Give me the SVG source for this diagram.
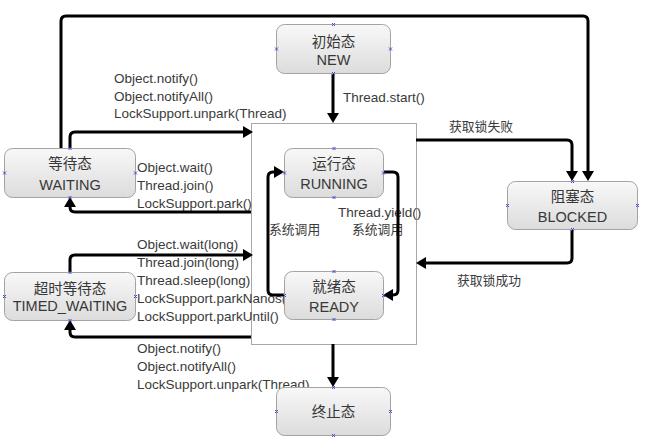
<svg xmlns="http://www.w3.org/2000/svg" xmlns:xlink="http://www.w3.org/1999/xlink" width="648" height="445" viewBox="0 0 648 445">
<style>
.box{fill:url(#g);stroke:#a3a3a3;stroke-width:1}
.nt{font-family:"Liberation Sans","Noto Sans CJK SC",sans-serif;font-size:14.5px;fill:#383838;text-anchor:middle}
.lbl{font-family:"Liberation Sans","Noto Sans CJK SC",sans-serif;font-size:13.5px;fill:#3a3a3a}
.cn{font-family:"Liberation Sans","Noto Sans CJK SC",sans-serif;font-size:12.8px;fill:#3a3a3a}
.c{fill:none;stroke:#000;stroke-width:3;marker-end:url(#ah)}
.cp{fill:none;stroke:#000;stroke-width:3}
</style>
<defs>
<linearGradient id="g" x1="0" y1="0" x2="0" y2="1">
<stop offset="0" stop-color="#f8f8f8"/>
<stop offset="1" stop-color="#dcdcdc"/>
</linearGradient>
<marker id="ah" viewBox="0 0 10 12" refX="4" refY="6" markerWidth="10" markerHeight="12" markerUnits="userSpaceOnUse" orient="auto">
<path d="M0,0 L10,6 L0,12 Z" fill="#000"/>
</marker>
<path id="pt" d="M-1.5,-1.5 L1.5,1.5 M-1.5,1.5 L1.5,-1.5" stroke="#3b4fd8" stroke-width="1" fill="none"/>
</defs>
<rect width="648" height="445" fill="#fff"/>

<g id="container">
<rect x="251.5" y="123.5" width="165" height="221" fill="#fff" stroke="#a8a8a8" stroke-width="1"/>
</g>

<g id="labels">
<text class="lbl" x="114" y="83">Object.notify()</text>
<text class="lbl" x="114" y="100.5">Object.notifyAll()</text>
<text class="lbl" x="114" y="118">LockSupport.unpark(Thread)</text>
<text class="lbl" x="343" y="101.5">Thread.start()</text>
<text class="lbl" x="137" y="172">Object.wait()</text>
<text class="lbl" x="137" y="190">Thread.join()</text>
<text class="lbl" x="137" y="207.5">LockSupport.park()</text>
<text class="lbl" x="137" y="249">Object.wait(long)</text>
<text class="lbl" x="137" y="267">Thread.join(long)</text>
<text class="lbl" x="137" y="285">Thread.sleep(long)</text>
<text class="lbl" x="137" y="303">LockSupport.parkNanos()</text>
<text class="lbl" x="137" y="321">LockSupport.parkUntil()</text>
<text class="lbl" x="137" y="353">Object.notify()</text>
<text class="lbl" x="137" y="371">Object.notifyAll()</text>
<text class="lbl" x="137" y="389">LockSupport.unpark(Thread)</text>
<text class="lbl" x="338" y="217">Thread.yield()</text>
<text class="cn" x="269" y="234">系统调用</text>
<text class="cn" x="352" y="234">系统调用</text>
<text class="cn" x="449" y="131">获取锁失败</text>
<text class="cn" x="457" y="285">获取锁成功</text>
</g>

<g id="connectors">
<path class="c" d="M61,148 V21 Q61,16 66,16 H583 Q588,16 588,21 V175"/>
<path class="c" d="M333,73 V117"/>
<path class="c" d="M70,148 V137 Q70,132 75,132 H247"/>
<path class="c" d="M251,212 H75 Q70,212 70,207 V203"/>
<path class="c" d="M70,272 V260 Q70,255 75,255 H247"/>
<path class="c" d="M251,337 H75 Q70,337 70,332 V326"/>
<path class="c" d="M333,344 V381"/>
<path class="c" d="M416,140 H567 Q572,140 572,145 V175"/>
<path class="c" d="M572,229 V258 Q572,263 567,263 H422"/>
<path class="c" d="M284,295 H273 Q268,295 268,290 V177 Q268,172 273,172 H278"/>
<path class="c" d="M383,172 H393 Q398,172 398,177 V290 Q398,295 393,295 H389"/>
</g>

<g id="node-new">
<rect class="box" x="276.5" y="24.5" width="114" height="49" rx="8"/>
<text class="nt" x="333.5" y="46.5">初始态</text>
<text class="nt" x="333.5" y="64.5">NEW</text>
<use xlink:href="#pt" x="333.5" y="24.5"/><use xlink:href="#pt" x="333.5" y="73.5"/><use xlink:href="#pt" x="276.5" y="49"/><use xlink:href="#pt" x="390.5" y="49"/>
</g>

<g id="node-running">
<rect class="box" x="284.5" y="148.5" width="99" height="49" rx="8"/>
<text class="nt" x="334" y="169">运行态</text>
<text class="nt" x="334" y="188.5">RUNNING</text>
<use xlink:href="#pt" x="334" y="148.5"/><use xlink:href="#pt" x="334" y="197.5"/><use xlink:href="#pt" x="284.5" y="173"/><use xlink:href="#pt" x="383.5" y="173"/>
</g>

<g id="node-ready">
<rect class="box" x="284.5" y="271.5" width="99" height="48" rx="8"/>
<text class="nt" x="334" y="291.5">就绪态</text>
<text class="nt" x="334" y="311.5">READY</text>
<use xlink:href="#pt" x="334" y="271.5"/><use xlink:href="#pt" x="334" y="319.5"/><use xlink:href="#pt" x="284.5" y="295.5"/><use xlink:href="#pt" x="383.5" y="295.5"/>
</g>

<g id="node-waiting">
<rect class="box" x="4.5" y="148.5" width="131" height="49" rx="8"/>
<text class="nt" x="70" y="169">等待态</text>
<text class="nt" x="70" y="190">WAITING</text>
<use xlink:href="#pt" x="70" y="148.5"/><use xlink:href="#pt" x="70" y="197.5"/><use xlink:href="#pt" x="4.5" y="173"/><use xlink:href="#pt" x="135.5" y="173"/>
</g>

<g id="node-timed-waiting">
<rect class="box" x="4.5" y="272.5" width="131" height="48" rx="8"/>
<text class="nt" x="70" y="293.5">超时等待态</text>
<text class="nt" x="70" y="310.5">TIMED_WAITING</text>
<use xlink:href="#pt" x="70" y="272.5"/><use xlink:href="#pt" x="70" y="320.5"/><use xlink:href="#pt" x="4.5" y="296.5"/><use xlink:href="#pt" x="135.5" y="296.5"/>
</g>

<g id="node-blocked">
<rect class="box" x="507.5" y="181.5" width="130" height="48" rx="8"/>
<text class="nt" x="572.5" y="201.5">阻塞态</text>
<text class="nt" x="572.5" y="221.5">BLOCKED</text>
<use xlink:href="#pt" x="572.5" y="181.5"/><use xlink:href="#pt" x="572.5" y="229.5"/><use xlink:href="#pt" x="507.5" y="205.5"/><use xlink:href="#pt" x="637.5" y="205.5"/>
</g>

<g id="node-terminated">
<rect class="box" x="276.5" y="387.5" width="114" height="48" rx="8"/>
<text class="nt" x="333.5" y="417">终止态</text>
<use xlink:href="#pt" x="333.5" y="387.5"/><use xlink:href="#pt" x="333.5" y="435.5"/><use xlink:href="#pt" x="276.5" y="411.5"/><use xlink:href="#pt" x="390.5" y="411.5"/>
</g>
</svg>
